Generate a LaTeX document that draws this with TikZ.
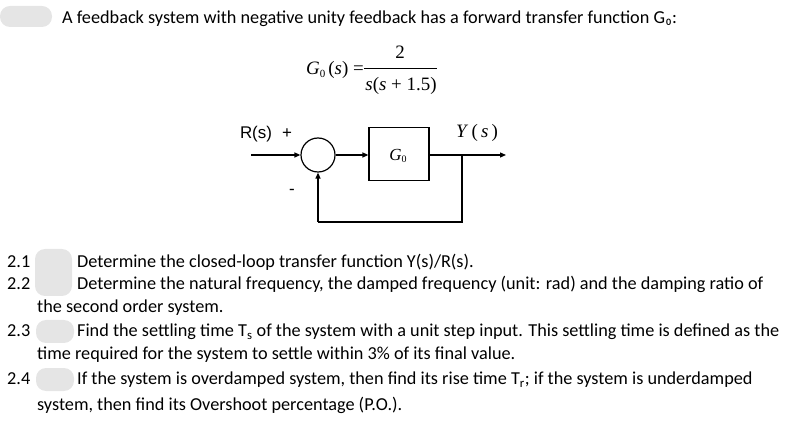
\documentclass[tikz,border=0pt]{standalone}
\usepackage{fontspec}
\setmainfont{Carlito}
\newfontfamily\tms{Liberation Serif}
\newfontfamily\arl{Liberation Sans}
\usetikzlibrary{arrows.meta}
\begin{document}
\begin{tikzpicture}[x=1bp,y=-1bp,
  txt/.style={anchor=base west,inner sep=0pt,font=\fontsize{18.3}{21}\selectfont},
  blob/.style={fill=black!10,draw=none,rounded corners=10bp},
  sig/.style={line width=1.2bp,-{Triangle[length=6bp,width=5bp]}},
  wire/.style={line width=1.2bp}]
\useasboundingbox (0,0) rectangle (796,438);
% redaction blobs
\fill[blob] (0,6) rectangle (52,27);
\fill[blob] (35,249) rectangle (72,296);
\fill[blob] (36,320) rectangle (74,343);
\fill[blob] (36,368) rectangle (74,391);
% text
\node[txt] (t0) at (62,24) {A feedback system with negative unity feedback has a forward transfer function G₀:};
\node[txt] (a1) at (7,268) {2.1};
\node[txt] (b1) at (77,268) {Determine the closed-loop transfer function Y(s)/R(s).};
\node[txt] (a2) at (7,290) {2.2};
\node[txt] (b2) at (77,290) {Determine the natural frequency, the damped frequency (unit: rad) and the damping ratio of};
\node[txt] (c2) at (37,313) {the second order system.};
\node[txt] (a3) at (7,337) {2.3};
\node[txt] (b3) at (77,337) {Find the settling time T\textsubscript{s} of the system with a unit step input. This settling time is defined as the};
\node[txt] (c3) at (37,360) {time required for the system to settle within 3\% of its final value.};
\node[txt] (a4) at (7,385) {2.4};
\node[txt] (b4) at (77,385) {If the system is overdamped system, then find its rise time T\textsubscript{r}; if the system is underdamped};
\node[txt] (c4) at (37,410) {system, then find its Overshoot percentage (P.O.).};
% formula
\node[anchor=base east,inner sep=0pt,font=\tms\fontsize{19}{22}\selectfont] (lhs) at (364,75) {\textit{G}\raisebox{-0.25ex}{\fontsize{11}{11}\selectfont 0}\,(\textit{s}) =};
\node[anchor=base,inner sep=0pt,font=\tms\fontsize{19}{22}\selectfont] (num) at (400,59) {2};
\node[anchor=base,inner sep=0pt,font=\tms\fontsize{19}{22}\selectfont] (den) at (401,91) {\textit{s}(\textit{s} + 1.5)};
\draw[line width=0.7bp] (364,68) -- (437,68);
% block diagram
\node[circle,draw,line width=1.2bp,minimum size=34bp,inner sep=0pt] (sum) at (318,155) {};
\node[draw,line width=1.2bp,minimum width=60bp,minimum height=53bp,inner sep=0pt] (g) at (399,154) {};
\node[font=\tms\fontsize{17}{19}\selectfont] (gl) at (398,156) {\textit{G}\raisebox{-0.25ex}{\fontsize{10}{10}\selectfont 0}};
\coordinate (in) at (251,155);
\coordinate (out) at (506,155);
\coordinate (br) at (462,155);
\coordinate (fb1) at (462,222);
\coordinate (fb2) at (318,222);
\draw[sig] (in) -- (sum.west);
\draw[sig] (sum.east) -- (g.west |- sum.east);
\draw[sig] (g.east |- out) -- (out);
\draw[wire] (br) -- (fb1) -- (fb2);
\draw[sig] (fb2) -- (sum.south);
\node[anchor=base,inner sep=0pt,font=\arl\fontsize{17}{20}\selectfont] (r) at (256,139) {R(s)};
\node[anchor=base,inner sep=0pt,font=\arl\fontsize{17}{20}\selectfont] (plus) at (287,139) {+};
\node[anchor=base,inner sep=0pt,font=\arl\fontsize{17}{20}\selectfont] (minus) at (292,195) {-};
\node[anchor=base,inner sep=0pt,font=\tms\fontsize{19}{22}\selectfont] (y) at (477,138) {\textit{Y}\,(\,\textit{s}\,)};
\end{tikzpicture}
\end{document}
